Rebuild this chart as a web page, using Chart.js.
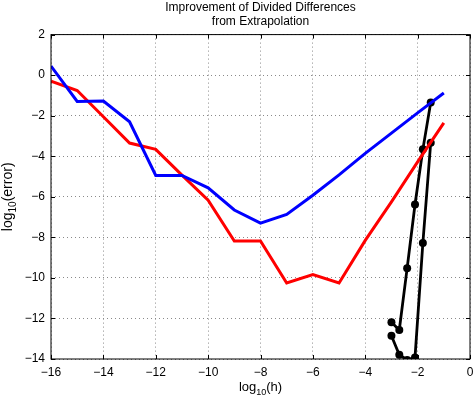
<!DOCTYPE html>
<html>
<head>
<meta charset="utf-8">
<script src="https://cdn.jsdelivr.net/npm/chart.js@4.4.0/dist/chart.umd.min.js"></script>
<style>
  html, body { margin: 0; padding: 0; background: #fff; }
  #caja { width: 474px; height: 397px; }
</style>
</head>
<body>
<div id="caja"><canvas id="grafico"></canvas></div>
<script>
// log10(h) de las curvas azul y roja
const hBase = [-16, -15, -14, -13, -12, -11, -10, -9, -8, -7, -6, -5, -4, -3, -2, -1];
const errAzul = [0.45, -1.3, -1.28, -2.3, -4.95, -4.95, -5.56, -6.65, -7.3, -6.87, -5.92, -4.92, -3.86, -2.86, -1.86, -0.88];
const errRoja = [-0.3, -0.76, -2.05, -3.35, -3.66, -4.93, -6.17, -8.18, -8.18, -10.25, -9.83, -10.25, -8.15, -6.25, -4.28, -2.35];

// curvas negras (extrapolacion)
const hNegra = [-3.0, -2.7, -2.4, -2.1, -1.8, -1.5];
const errNegra1 = [-12.19, -12.57, -9.52, -6.38, -3.66, -1.35];
const errNegra2 = [-12.85, -13.79, -14.05, -13.92, -8.28, -3.33];

const ticksX = [-16, -14, -12, -10, -8, -6, -4, -2, 0];
const ticksY = [2, 0, -2, -4, -6, -8, -10, -12, -14];
const titulo = ['Improvement of Divided Differences', 'from Extrapolation'];

const FUENTE = '"Liberation Sans", Arial, Helvetica, sans-serif';

function puntos(xs, ys) {
    return xs.map((x, i) => ({ x: x, y: ys[i] }));
}

function conMenos(v) {
    return String(v).replace('-', '\u2212');
}

// escribe "log10" con subindice seguido del resto
function escribirLog(ctx, resto, cx, base, tam) {
    const f1 = tam + 'px ' + FUENTE;
    const f2 = Math.round(tam * 0.72) + 'px ' + FUENTE;
    ctx.font = f1;
    const w1 = ctx.measureText('log').width;
    const w3 = ctx.measureText(resto).width;
    ctx.font = f2;
    const w2 = ctx.measureText('10').width;
    let x = cx - (w1 + w2 + w3) / 2;
    ctx.textAlign = 'left';
    ctx.textBaseline = 'alphabetic';
    ctx.fillStyle = '#000';
    ctx.font = f1; ctx.fillText('log', x, base); x += w1;
    ctx.font = f2; ctx.fillText('10', x, base + 4); x += w2;
    ctx.font = f1; ctx.fillText(resto, x, base);
}

const marco = {
    id: 'marco',
    afterDraw(chart) {
        const { ctx, chartArea: a } = chart;
        const sx = chart.scales.x, sy = chart.scales.y;
        ctx.save();
        ctx.strokeStyle = '#000';
        ctx.lineWidth = 1;
        ctx.beginPath();
        // marcas hacia dentro, estilo matlab
        ticksX.forEach(v => {
            const px = Math.round(sx.getPixelForValue(v)) + 0.5;
            ctx.moveTo(px, a.bottom); ctx.lineTo(px, a.bottom - 4);
            ctx.moveTo(px, a.top); ctx.lineTo(px, a.top + 4);
        });
        ticksY.forEach(v => {
            const py = Math.round(sy.getPixelForValue(v)) + 0.5;
            ctx.moveTo(a.left, py); ctx.lineTo(a.left + 4, py);
            ctx.moveTo(a.right, py); ctx.lineTo(a.right - 4, py);
        });
        ctx.stroke();
        ctx.strokeRect(a.left, a.top, a.right - a.left, a.bottom - a.top);

        escribirLog(ctx, '(h)', (a.left + a.right) / 2, 391, 13);
        ctx.translate(12, (a.top + a.bottom) / 2);
        ctx.rotate(-Math.PI / 2);
        escribirLog(ctx, '(error)', 0, 0, 14);
        ctx.restore();
    }
};

const serie = (datos, color, ancho, radio) => ({
    data: datos,
    borderColor: color,
    backgroundColor: color,
    borderWidth: ancho,
    pointRadius: radio,
    pointHoverRadius: radio,
    pointBorderWidth: 0,
    tension: 0,
    fill: false
});

new Chart(document.getElementById('grafico'), {
    type: 'line',
    data: {
        datasets: [
            serie(puntos(hBase, errAzul), '#0000ff', 3, 0),
            serie(puntos(hBase, errRoja), '#ff0000', 3, 0),
            serie(puntos(hNegra, errNegra1), '#000000', 2.8, 4),
            serie(puntos(hNegra, errNegra2), '#000000', 2.8, 4)
        ]
    },
    options: {
        responsive: true,
        maintainAspectRatio: false,
        animation: false,
        layout: { padding: { left: 0, right: 3, top: 0, bottom: 0 } },
        plugins: {
            legend: { display: false },
            tooltip: { enabled: false },
            title: {
                display: true,
                text: titulo,
                fullSize: false,
                color: '#000',
                font: { family: FUENTE, size: 12, weight: 'normal', lineHeight: 1.15 },
                padding: { top: 1, bottom: 6 }
            }
        },
        scales: {
            x: {
                type: 'linear',
                min: -16,
                max: 0,
                afterBuildTicks: s => { s.ticks = ticksX.map(v => ({ value: v })); },
                afterFit: s => { s.height = 38; s.paddingLeft = 0; s.paddingRight = 0; },
                grid: { color: '#8a8a8a', lineWidth: 1, drawTicks: false },
                border: { display: false, dash: [1, 3] },
                ticks: {
                    color: '#000',
                    padding: 6,
                    maxRotation: 0,
                    font: { family: FUENTE, size: 12 },
                    callback: v => conMenos(v)
                }
            },
            y: {
                type: 'linear',
                min: -14,
                max: 2,
                afterBuildTicks: s => { s.ticks = ticksY.map(v => ({ value: v })); },
                afterFit: s => { s.width = 51; },
                grid: { color: '#8a8a8a', lineWidth: 1, drawTicks: false },
                border: { display: false, dash: [1, 3] },
                ticks: {
                    color: '#000',
                    padding: 6,
                    font: { family: FUENTE, size: 12 },
                    callback: v => conMenos(v)
                }
            }
        }
    },
    plugins: [marco]
});
</script>
</body>
</html>
